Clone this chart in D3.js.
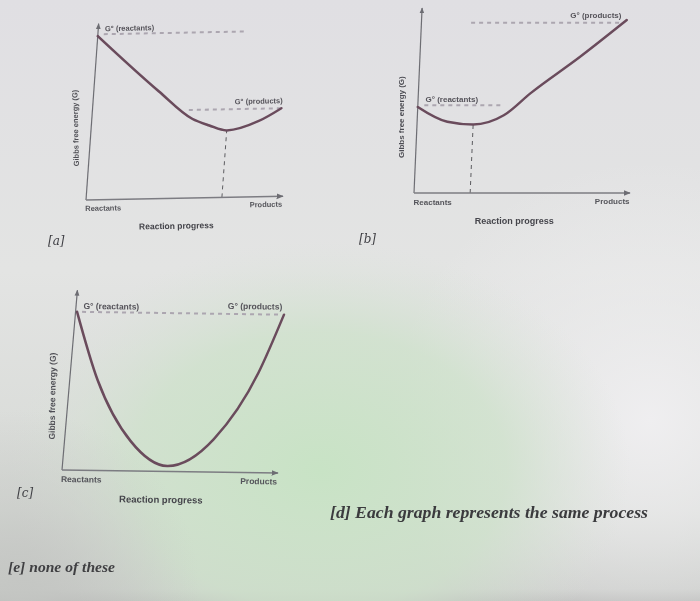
<!DOCTYPE html>
<html><head><meta charset="utf-8">
<script src="https://cdn.jsdelivr.net/npm/d3@7"></script>
<style>html,body{margin:0;padding:0;background:#e2e2e4;overflow:hidden;} svg{display:block;}</style>
</head><body><div id="chart"></div>
<script>
// ---------- data ----------
const panelIds = ["a", "b", "c"];
const progressA = [0, 3.3, 5.1, 6.0, 6.9, 8.5, 9.6];
const energyA   = [9.3, 6.1, 4.5, 4.1, 3.8, 4.3, 5.0];
const progressB = [0, 1.4, 2.6, 4.0, 5.2, 7.4, 9.5];
const energyB   = [4.65, 3.85, 3.7, 4.2, 5.4, 7.35, 9.35];
const progressC = [0.07, 1.3, 3.05, 4.85, 6.9, 8.7, 9.65];
const energyC   = [8.8, 5.0, 1.67, 0.3, 1.83, 5.55, 8.8];
const reactantLevels   = [9.4, 4.75, 8.8];
const reactantDashEnd  = [7.6, 4.0, 9.5];
const productLevels    = [5.0, 9.2, 8.8];
const productDashStart = [4.9, 2.3, 0.2];
const productDashEnd   = [9.6, 9.2, 9.5];
const equilibriumProgress = [6.9, 2.6, null];
const equilibriumEnergy   = [3.8, 3.7, null];
const xTickLabels = ["Reactants", "Products"];
const xAxisTitle = "Reaction progress";
const yAxisTitle = "Gibbs free energy (G)";
const reactantLabel = "G\u00b0 (reactants)";
const productLabel = "G\u00b0 (products)";
const panelTags = ["[a]", "[b]", "[c]"];
const optionD = "[d] Each graph represents the same process";
const optionE = "[e] none of these";

const progressSeries = [progressA, progressB, progressC];
const energySeries = [energyA, energyB, energyC];

// ---------- layout ----------
const W = 700, H = 601;
const layout = [
  {ox: 86,  oy: 200, w: 197, h: 176, skew: -5.2, rot: -1.1, fs: 7.5, tag: [48, 245]},
  {ox: 414, oy: 193, w: 216, h: 185, skew: -2.5, rot: 0,    fs: 8,   tag: [359, 243]},
  {ox: 62,  oy: 470, w: 216, h: 180, skew: -4.1, rot: 0.8,  fs: 8.5, tag: [17, 497]}
];

const svg = d3.select("#chart").append("svg").attr("width", W).attr("height", H);
const defs = svg.append("defs");

// background: photographed paper
const lg = defs.append("linearGradient").attr("id", "bgLin").attr("x1", 0).attr("y1", 0).attr("x2", 0).attr("y2", 1);
lg.append("stop").attr("offset", "0%").attr("stop-color", "#e0dfe3");
lg.append("stop").attr("offset", "45%").attr("stop-color", "#e3e4e3");
lg.append("stop").attr("offset", "85%").attr("stop-color", "#d6d9d5");
lg.append("stop").attr("offset", "98%").attr("stop-color", "#c8cac7");
lg.append("stop").attr("offset", "100%").attr("stop-color", "#b9bab8");
const rg2 = defs.append("radialGradient").attr("id", "bgRight")
  .attr("gradientUnits", "userSpaceOnUse").attr("cx", 650).attr("cy", 420).attr("r", 260);
rg2.append("stop").attr("offset", "0%").attr("stop-color", "#f0eff1").attr("stop-opacity", 0.95);
rg2.append("stop").attr("offset", "100%").attr("stop-color", "#f0eff1").attr("stop-opacity", 0);
const rg = defs.append("radialGradient").attr("id", "bgGreen")
  .attr("gradientUnits", "userSpaceOnUse").attr("cx", 320).attr("cy", 470).attr("r", 270)
  .attr("gradientTransform", "translate(320,470) scale(1.15,0.85) translate(-320,-470)");
rg.append("stop").attr("offset", "0%").attr("stop-color", "#c8e3c5").attr("stop-opacity", 1);
rg.append("stop").attr("offset", "60%").attr("stop-color", "#cfe2cc").attr("stop-opacity", 0.8);
rg.append("stop").attr("offset", "100%").attr("stop-color", "#dbe2da").attr("stop-opacity", 0);
const rg3 = defs.append("radialGradient").attr("id", "bgGrey")
  .attr("gradientUnits", "userSpaceOnUse").attr("cx", 20).attr("cy", 590).attr("r", 180);
rg3.append("stop").attr("offset", "0%").attr("stop-color", "#c4c6c3").attr("stop-opacity", 0.9);
rg3.append("stop").attr("offset", "100%").attr("stop-color", "#c4c6c3").attr("stop-opacity", 0);

svg.append("rect").attr("width", W).attr("height", H).attr("fill", "url(#bgLin)");
svg.append("rect").attr("width", W).attr("height", H).attr("fill", "url(#bgRight)");
svg.append("rect").attr("width", W).attr("height", H).attr("fill", "url(#bgGreen)");
svg.append("rect").attr("width", W).attr("height", H).attr("fill", "url(#bgGrey)");

// soft photo blur
defs.append("filter").attr("id", "soft").append("feGaussianBlur").attr("stdDeviation", 0.55);

// arrow marker
defs.append("marker").attr("id", "arrow").attr("viewBox", "0 0 10 10")
  .attr("refX", 9).attr("refY", 5).attr("markerWidth", 5).attr("markerHeight", 5)
  .attr("orient", "auto-start-reverse")
  .append("path").attr("d", "M0,1 L10,5 L0,9 z").attr("fill", "#6d6d73");

const root = svg.append("g").attr("filter", "url(#soft)");
const font = "'Liberation Sans', Arial, sans-serif";

panelIds.forEach((id, i) => {
  const L = layout[i];
  const x = d3.scaleLinear().domain([0, 10]).range([0, L.w]);
  const y = d3.scaleLinear().domain([0, 10]).range([0, -L.h]);
  const k = Math.tan(L.skew * Math.PI / 180);
  const g = root.append("g")
    .attr("transform", `translate(${L.ox},${L.oy}) rotate(${L.rot}) skewX(${L.skew})`);
  // text group: same placement, but upright glyphs
  const gt = root.append("g")
    .attr("transform", `translate(${L.ox},${L.oy}) rotate(${L.rot})`);
  const px = (xv, yv) => x(xv) + k * yv;

  const line = d3.line().x(d => x(d[0])).y(d => y(d[1]));

  // dashed G° levels
  const dash = (x0, x1, lv) => g.append("path")
    .attr("d", line([[x0, lv], [x1, lv]]))
    .attr("stroke", "#aca6b0").attr("stroke-width", 2).attr("stroke-dasharray", "4 4").attr("fill", "none");
  dash(0.3, reactantDashEnd[i], reactantLevels[i]);
  if (i !== 2) dash(productDashStart[i], productDashEnd[i], productLevels[i]);

  // equilibrium vertical dashed line
  if (equilibriumProgress[i] !== null) {
    g.append("path")
      .attr("d", line([[equilibriumProgress[i], 0], [equilibriumProgress[i], equilibriumEnergy[i]]]))
      .attr("stroke", "#5c5c60").attr("stroke-width", 1).attr("stroke-dasharray", "4 4").attr("fill", "none");
  }

  // axes
  g.append("path").attr("d", line([[0, 0], [0, 10]]))
    .attr("stroke", "#6d6d73").attr("stroke-width", 1.2).attr("fill", "none").attr("marker-end", "url(#arrow)");
  g.append("path").attr("d", line([[0, 0], [10, 0]]))
    .attr("stroke", "#7c7c82").attr("stroke-width", 1.4).attr("fill", "none").attr("marker-end", "url(#arrow)");

  // energy curve
  const pts = progressSeries[i].map((p, j) => [p, energySeries[i][j]]);
  g.append("path")
    .attr("d", d3.line().x(d => x(d[0])).y(d => y(d[1])).curve(d3.curveMonotoneX)(pts))
    .attr("stroke", "#6a4b5c").attr("stroke-width", 2.5).attr("fill", "none").attr("stroke-linecap", "round");

  const txt = (t, xv, yp, anchor, size, weight, color) => gt.append("text")
    .attr("x", px(xv, yp)).attr("y", yp).attr("text-anchor", anchor)
    .attr("font-family", font).attr("font-size", size).attr("font-weight", weight)
    .attr("fill", color).text(t);

  // G° labels
  txt(reactantLabel, 0.35, y(reactantLevels[i]) - 3, "start", L.fs, "bold", "#55535a");
  txt(productLabel, productDashEnd[i] + 0.05, y(productLevels[i]) - 5, "end", L.fs, "bold", "#55535a");

  // tick labels and axis titles
  txt(xTickLabels[0], 0, L.fs + 3.5, "start", L.fs, "bold", "#55555b");
  txt(xTickLabels[1], 10, L.fs + 3, "end", L.fs, "bold", "#55555b");
  txt(xAxisTitle, 4.7, L.fs + 23, "middle", L.fs + 1, "bold", "#45454b");
  const yc = y(4.1);
  gt.append("text")
    .attr("transform", `translate(${px(0, yc) - 13},${yc}) rotate(-90)`)
    .attr("text-anchor", "middle")
    .attr("font-family", font).attr("font-size", L.fs).attr("font-weight", "bold")
    .attr("fill", "#4e4e54").text(yAxisTitle);

  // option tag
  root.append("text").attr("x", L.tag[0]).attr("y", L.tag[1])
    .attr("font-family", "'DejaVu Serif', serif").attr("font-style", "italic")
    .attr("font-size", 12).attr("fill", "#3f3f44").text(panelTags[i]);
});

root.append("text").attr("x", 330).attr("y", 518)
  .attr("font-family", "'Liberation Serif', serif").attr("font-style", "italic").attr("font-weight", "bold")
  .attr("font-size", 17.5).attr("textLength", 318).attr("lengthAdjust", "spacingAndGlyphs")
  .attr("fill", "#3a3a3e").text(optionD);
root.append("text").attr("x", 8).attr("y", 572)
  .attr("font-family", "'Liberation Serif', serif").attr("font-style", "italic").attr("font-weight", "bold")
  .attr("font-size", 15).attr("textLength", 107).attr("lengthAdjust", "spacingAndGlyphs")
  .attr("fill", "#3f3f42").text(optionE);
</script>
</body></html>
